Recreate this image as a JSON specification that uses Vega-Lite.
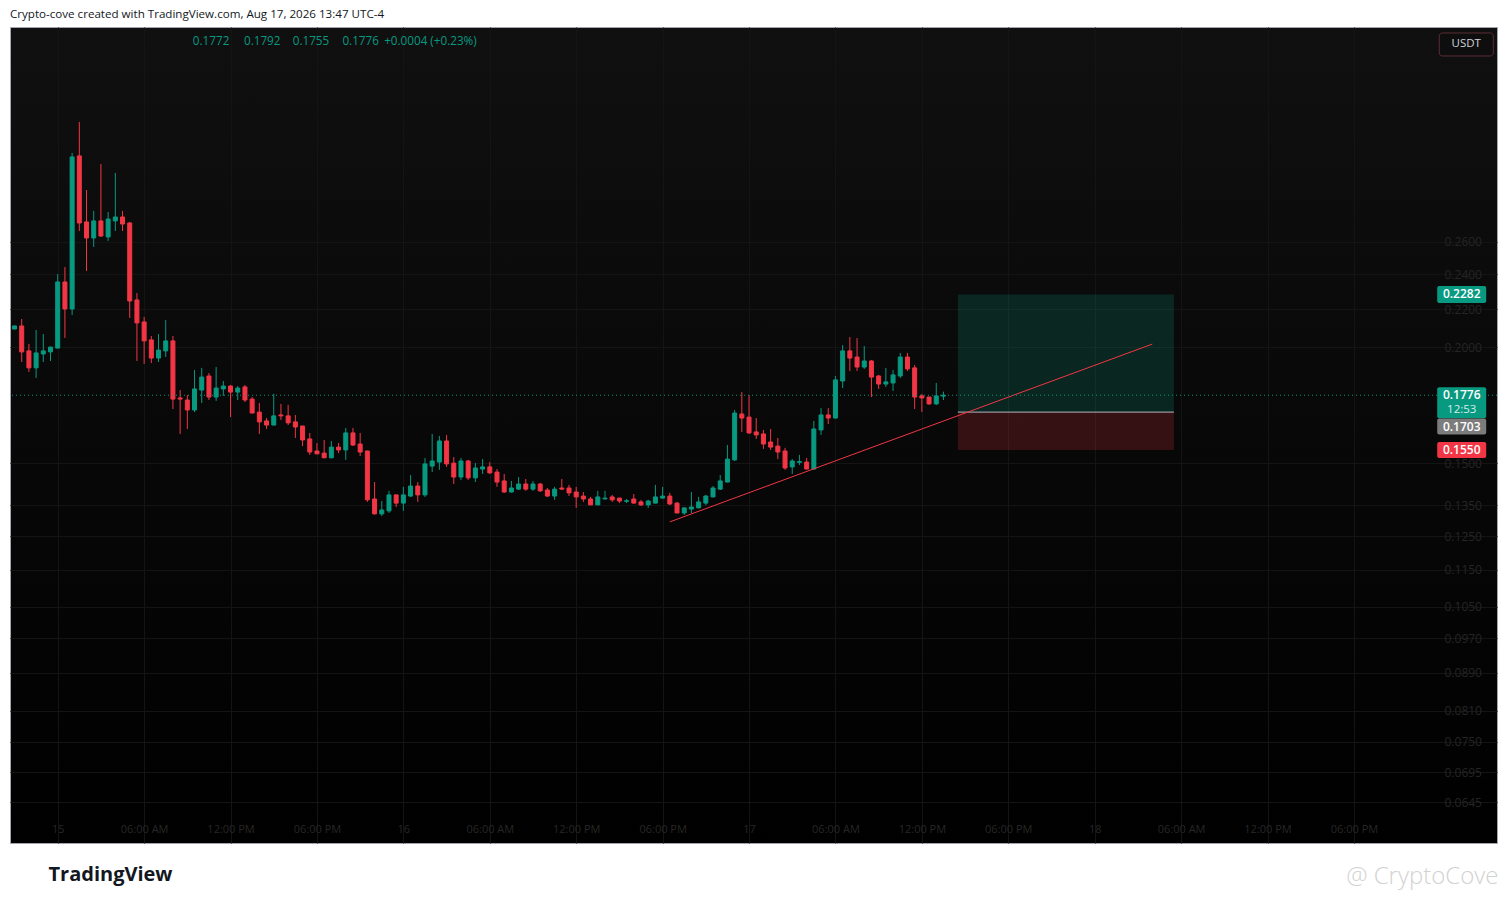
{
  "$schema": "https://vega.github.io/schema/vega-lite/v6.json",
  "width": 1487,
  "height": 816,
  "autosize": {"type": "none"},
  "padding": {"left": 10, "top": 27, "right": 11, "bottom": 61},
  "background": "#ffffff",
  "config": {
    "font": "Open Sans",
    "view": {
      "fill": {"gradient": "linear", "x1": 0, "y1": 0, "x2": 0, "y2": 1, "stops": [{"offset": 0, "color": "#101010"}, {"offset": 1, "color": "#000000"}]},
      "stroke": "#a3a6af",
      "strokeWidth": 1
    }
  },
  "title": {"text": "Crypto-cove created with TradingView.com, Aug 17, 2026 13:47 UTC-4", "anchor": "start", "frame": "group", "orient": "top", "offset": 6, "fontSize": 11.6, "fontWeight": "normal", "color": "#131722", "font": "Open Sans"},
  "datasets": {
    "candles": [
      {"t":"2026-08-14T21:00:00Z","o":0.2094,"h":0.2112,"l":0.2092,"c":0.2110},
      {"t":"2026-08-14T21:30:00Z","o":0.2110,"h":0.2147,"l":0.1929,"c":0.1978},
      {"t":"2026-08-14T22:00:00Z","o":0.1983,"h":0.2018,"l":0.1882,"c":0.1901},
      {"t":"2026-08-14T22:30:00Z","o":0.1901,"h":0.2089,"l":0.1854,"c":0.1973},
      {"t":"2026-08-14T23:00:00Z","o":0.1968,"h":0.2068,"l":0.1929,"c":0.1983},
      {"t":"2026-08-14T23:30:00Z","o":0.1978,"h":0.2004,"l":0.1934,"c":0.2002},
      {"t":"2026-08-15T00:00:00Z","o":0.1997,"h":0.2401,"l":0.1995,"c":0.2354},
      {"t":"2026-08-15T00:30:00Z","o":0.2354,"h":0.2443,"l":0.2048,"c":0.2201},
      {"t":"2026-08-15T01:00:00Z","o":0.2201,"h":0.3245,"l":0.2168,"c":0.3213},
      {"t":"2026-08-15T01:30:00Z","o":0.3221,"h":0.3505,"l":0.2672,"c":0.2726},
      {"t":"2026-08-15T02:00:00Z","o":0.2733,"h":0.2959,"l":0.2419,"c":0.2626},
      {"t":"2026-08-15T02:30:00Z","o":0.2626,"h":0.2809,"l":0.2568,"c":0.2740},
      {"t":"2026-08-15T03:00:00Z","o":0.2740,"h":0.3157,"l":0.2633,"c":0.2639},
      {"t":"2026-08-15T03:30:00Z","o":0.2633,"h":0.2802,"l":0.2607,"c":0.2753},
      {"t":"2026-08-15T04:00:00Z","o":0.2740,"h":0.3087,"l":0.2672,"c":0.2767},
      {"t":"2026-08-15T04:30:00Z","o":0.2767,"h":0.2809,"l":0.2672,"c":0.2719},
      {"t":"2026-08-15T05:00:00Z","o":0.2726,"h":0.2733,"l":0.2152,"c":0.2245},
      {"t":"2026-08-15T05:30:00Z","o":0.2251,"h":0.2290,"l":0.1934,"c":0.2126},
      {"t":"2026-08-15T06:00:00Z","o":0.2131,"h":0.2158,"l":0.1920,"c":0.2033},
      {"t":"2026-08-15T06:30:00Z","o":0.2038,"h":0.2058,"l":0.1924,"c":0.1948},
      {"t":"2026-08-15T07:00:00Z","o":0.1948,"h":0.2068,"l":0.1929,"c":0.1987},
      {"t":"2026-08-15T07:30:00Z","o":0.1983,"h":0.2141,"l":0.1953,"c":0.2033},
      {"t":"2026-08-15T08:00:00Z","o":0.2033,"h":0.2058,"l":0.1716,"c":0.1759},
      {"t":"2026-08-15T08:30:00Z","o":0.1764,"h":0.1799,"l":0.1613,"c":0.1759},
      {"t":"2026-08-15T09:00:00Z","o":0.1755,"h":0.1777,"l":0.1633,"c":0.1712},
      {"t":"2026-08-15T09:30:00Z","o":0.1712,"h":0.1891,"l":0.1703,"c":0.1804},
      {"t":"2026-08-15T10:00:00Z","o":0.1799,"h":0.1901,"l":0.1742,"c":0.1858},
      {"t":"2026-08-15T10:30:00Z","o":0.1863,"h":0.1877,"l":0.1755,"c":0.1768},
      {"t":"2026-08-15T11:00:00Z","o":0.1768,"h":0.1905,"l":0.1751,"c":0.1808},
      {"t":"2026-08-15T11:30:00Z","o":0.1804,"h":0.1840,"l":0.1773,"c":0.1817},
      {"t":"2026-08-15T12:00:00Z","o":0.1817,"h":0.1822,"l":0.1682,"c":0.1790},
      {"t":"2026-08-15T12:30:00Z","o":0.1790,"h":0.1817,"l":0.1755,"c":0.1808},
      {"t":"2026-08-15T13:00:00Z","o":0.1813,"h":0.1822,"l":0.1746,"c":0.1755},
      {"t":"2026-08-15T13:30:00Z","o":0.1759,"h":0.1768,"l":0.1698,"c":0.1699},
      {"t":"2026-08-15T14:00:00Z","o":0.1703,"h":0.1742,"l":0.1613,"c":0.1662},
      {"t":"2026-08-15T14:30:00Z","o":0.1666,"h":0.1678,"l":0.1633,"c":0.1649},
      {"t":"2026-08-15T15:00:00Z","o":0.1649,"h":0.1782,"l":0.1648,"c":0.1687},
      {"t":"2026-08-15T15:30:00Z","o":0.1691,"h":0.1738,"l":0.1670,"c":0.1687},
      {"t":"2026-08-15T16:00:00Z","o":0.1687,"h":0.1734,"l":0.1649,"c":0.1658},
      {"t":"2026-08-15T16:30:00Z","o":0.1662,"h":0.1691,"l":0.1597,"c":0.1641},
      {"t":"2026-08-15T17:00:00Z","o":0.1645,"h":0.1646,"l":0.1565,"c":0.1589},
      {"t":"2026-08-15T17:30:00Z","o":0.1593,"h":0.1617,"l":0.1531,"c":0.1542},
      {"t":"2026-08-15T18:00:00Z","o":0.1546,"h":0.1577,"l":0.1534,"c":0.1535},
      {"t":"2026-08-15T18:30:00Z","o":0.1538,"h":0.1589,"l":0.1519,"c":0.1520},
      {"t":"2026-08-15T19:00:00Z","o":0.1520,"h":0.1585,"l":0.1518,"c":0.1561},
      {"t":"2026-08-15T19:30:00Z","o":0.1561,"h":0.1577,"l":0.1538,"c":0.1550},
      {"t":"2026-08-15T20:00:00Z","o":0.1550,"h":0.1637,"l":0.1512,"c":0.1617},
      {"t":"2026-08-15T20:30:00Z","o":0.1617,"h":0.1637,"l":0.1565,"c":0.1569},
      {"t":"2026-08-15T21:00:00Z","o":0.1573,"h":0.1617,"l":0.1527,"c":0.1542},
      {"t":"2026-08-15T21:30:00Z","o":0.1546,"h":0.1547,"l":0.1362,"c":0.1369},
      {"t":"2026-08-15T22:00:00Z","o":0.1372,"h":0.1431,"l":0.1320,"c":0.1322},
      {"t":"2026-08-15T22:30:00Z","o":0.1322,"h":0.1365,"l":0.1315,"c":0.1335},
      {"t":"2026-08-15T23:00:00Z","o":0.1332,"h":0.1400,"l":0.1325,"c":0.1386},
      {"t":"2026-08-15T23:30:00Z","o":0.1386,"h":0.1387,"l":0.1345,"c":0.1358},
      {"t":"2026-08-16T00:00:00Z","o":0.1358,"h":0.1414,"l":0.1332,"c":0.1386},
      {"t":"2026-08-16T00:30:00Z","o":0.1382,"h":0.1456,"l":0.1379,"c":0.1417},
      {"t":"2026-08-16T01:00:00Z","o":0.1417,"h":0.1431,"l":0.1362,"c":0.1386},
      {"t":"2026-08-16T01:30:00Z","o":0.1386,"h":0.1519,"l":0.1379,"c":0.1497},
      {"t":"2026-08-16T02:00:00Z","o":0.1489,"h":0.1613,"l":0.1467,"c":0.1508},
      {"t":"2026-08-16T02:30:00Z","o":0.1504,"h":0.1605,"l":0.1475,"c":0.1585},
      {"t":"2026-08-16T03:00:00Z","o":0.1585,"h":0.1609,"l":0.1486,"c":0.1497},
      {"t":"2026-08-16T03:30:00Z","o":0.1500,"h":0.1523,"l":0.1424,"c":0.1449},
      {"t":"2026-08-16T04:00:00Z","o":0.1449,"h":0.1519,"l":0.1438,"c":0.1508},
      {"t":"2026-08-16T04:30:00Z","o":0.1508,"h":0.1512,"l":0.1438,"c":0.1446},
      {"t":"2026-08-16T05:00:00Z","o":0.1446,"h":0.1500,"l":0.1431,"c":0.1482},
      {"t":"2026-08-16T05:30:00Z","o":0.1478,"h":0.1515,"l":0.1460,"c":0.1486},
      {"t":"2026-08-16T06:00:00Z","o":0.1486,"h":0.1504,"l":0.1460,"c":0.1464},
      {"t":"2026-08-16T06:30:00Z","o":0.1467,"h":0.1478,"l":0.1414,"c":0.1431},
      {"t":"2026-08-16T07:00:00Z","o":0.1435,"h":0.1460,"l":0.1393,"c":0.1396},
      {"t":"2026-08-16T07:30:00Z","o":0.1396,"h":0.1435,"l":0.1394,"c":0.1410},
      {"t":"2026-08-16T08:00:00Z","o":0.1406,"h":0.1449,"l":0.1403,"c":0.1424},
      {"t":"2026-08-16T08:30:00Z","o":0.1424,"h":0.1442,"l":0.1400,"c":0.1406},
      {"t":"2026-08-16T09:00:00Z","o":0.1406,"h":0.1435,"l":0.1400,"c":0.1424},
      {"t":"2026-08-16T09:30:00Z","o":0.1424,"h":0.1428,"l":0.1396,"c":0.1400},
      {"t":"2026-08-16T10:00:00Z","o":0.1403,"h":0.1410,"l":0.1379,"c":0.1382},
      {"t":"2026-08-16T10:30:00Z","o":0.1382,"h":0.1414,"l":0.1369,"c":0.1406},
      {"t":"2026-08-16T11:00:00Z","o":0.1410,"h":0.1442,"l":0.1403,"c":0.1406},
      {"t":"2026-08-16T11:30:00Z","o":0.1410,"h":0.1421,"l":0.1382,"c":0.1393},
      {"t":"2026-08-16T12:00:00Z","o":0.1396,"h":0.1414,"l":0.1342,"c":0.1379},
      {"t":"2026-08-16T12:30:00Z","o":0.1382,"h":0.1396,"l":0.1362,"c":0.1372},
      {"t":"2026-08-16T13:00:00Z","o":0.1372,"h":0.1379,"l":0.1351,"c":0.1352},
      {"t":"2026-08-16T13:30:00Z","o":0.1352,"h":0.1400,"l":0.1351,"c":0.1379},
      {"t":"2026-08-16T14:00:00Z","o":0.1372,"h":0.1400,"l":0.1371,"c":0.1375},
      {"t":"2026-08-16T14:30:00Z","o":0.1379,"h":0.1386,"l":0.1362,"c":0.1369},
      {"t":"2026-08-16T15:00:00Z","o":0.1375,"h":0.1376,"l":0.1358,"c":0.1365},
      {"t":"2026-08-16T15:30:00Z","o":0.1364,"h":0.1372,"l":0.1358,"c":0.1366},
      {"t":"2026-08-16T16:00:00Z","o":0.1372,"h":0.1389,"l":0.1357,"c":0.1358},
      {"t":"2026-08-16T16:30:00Z","o":0.1362,"h":0.1369,"l":0.1348,"c":0.1352},
      {"t":"2026-08-16T17:00:00Z","o":0.1352,"h":0.1369,"l":0.1342,"c":0.1365},
      {"t":"2026-08-16T17:30:00Z","o":0.1358,"h":0.1421,"l":0.1357,"c":0.1379},
      {"t":"2026-08-16T18:00:00Z","o":0.1375,"h":0.1414,"l":0.1374,"c":0.1382},
      {"t":"2026-08-16T18:30:00Z","o":0.1382,"h":0.1393,"l":0.1351,"c":0.1355},
      {"t":"2026-08-16T19:00:00Z","o":0.1358,"h":0.1362,"l":0.1325,"c":0.1325},
      {"t":"2026-08-16T19:30:00Z","o":0.1325,"h":0.1342,"l":0.1318,"c":0.1342},
      {"t":"2026-08-16T20:00:00Z","o":0.1338,"h":0.1396,"l":0.1325,"c":0.1345},
      {"t":"2026-08-16T20:30:00Z","o":0.1342,"h":0.1379,"l":0.1341,"c":0.1362},
      {"t":"2026-08-16T21:00:00Z","o":0.1358,"h":0.1386,"l":0.1351,"c":0.1382},
      {"t":"2026-08-16T21:30:00Z","o":0.1379,"h":0.1417,"l":0.1378,"c":0.1410},
      {"t":"2026-08-16T22:00:00Z","o":0.1406,"h":0.1456,"l":0.1403,"c":0.1435},
      {"t":"2026-08-16T22:30:00Z","o":0.1431,"h":0.1569,"l":0.1430,"c":0.1515},
      {"t":"2026-08-16T23:00:00Z","o":0.1512,"h":0.1712,"l":0.1508,"c":0.1699},
      {"t":"2026-08-16T23:30:00Z","o":0.1695,"h":0.1790,"l":0.1621,"c":0.1678},
      {"t":"2026-08-17T00:00:00Z","o":0.1682,"h":0.1777,"l":0.1613,"c":0.1617},
      {"t":"2026-08-17T00:30:00Z","o":0.1621,"h":0.1678,"l":0.1593,"c":0.1609},
      {"t":"2026-08-17T01:00:00Z","o":0.1613,"h":0.1629,"l":0.1554,"c":0.1573},
      {"t":"2026-08-17T01:30:00Z","o":0.1581,"h":0.1633,"l":0.1550,"c":0.1561},
      {"t":"2026-08-17T02:00:00Z","o":0.1565,"h":0.1597,"l":0.1515,"c":0.1542},
      {"t":"2026-08-17T02:30:00Z","o":0.1546,"h":0.1558,"l":0.1475,"c":0.1482},
      {"t":"2026-08-17T03:00:00Z","o":0.1486,"h":0.1515,"l":0.1460,"c":0.1508},
      {"t":"2026-08-17T03:30:00Z","o":0.1503,"h":0.1531,"l":0.1493,"c":0.1506},
      {"t":"2026-08-17T04:00:00Z","o":0.1504,"h":0.1519,"l":0.1478,"c":0.1478},
      {"t":"2026-08-17T04:30:00Z","o":0.1478,"h":0.1666,"l":0.1477,"c":0.1633},
      {"t":"2026-08-17T05:00:00Z","o":0.1629,"h":0.1720,"l":0.1609,"c":0.1691},
      {"t":"2026-08-17T05:30:00Z","o":0.1691,"h":0.1720,"l":0.1653,"c":0.1678},
      {"t":"2026-08-17T06:00:00Z","o":0.1678,"h":0.1863,"l":0.1677,"c":0.1845},
      {"t":"2026-08-17T06:30:00Z","o":0.1840,"h":0.2012,"l":0.1808,"c":0.1983},
      {"t":"2026-08-17T07:00:00Z","o":0.1983,"h":0.2053,"l":0.1886,"c":0.1948},
      {"t":"2026-08-17T07:30:00Z","o":0.1953,"h":0.2048,"l":0.1886,"c":0.1905},
      {"t":"2026-08-17T08:00:00Z","o":0.1905,"h":0.2007,"l":0.1896,"c":0.1934},
      {"t":"2026-08-17T08:30:00Z","o":0.1934,"h":0.1939,"l":0.1768,"c":0.1858},
      {"t":"2026-08-17T09:00:00Z","o":0.1863,"h":0.1868,"l":0.1804,"c":0.1826},
      {"t":"2026-08-17T09:30:00Z","o":0.1826,"h":0.1901,"l":0.1813,"c":0.1836},
      {"t":"2026-08-17T10:00:00Z","o":0.1831,"h":0.1891,"l":0.1795,"c":0.1868},
      {"t":"2026-08-17T10:30:00Z","o":0.1863,"h":0.1973,"l":0.1854,"c":0.1953},
      {"t":"2026-08-17T11:00:00Z","o":0.1953,"h":0.1973,"l":0.1886,"c":0.1896},
      {"t":"2026-08-17T11:30:00Z","o":0.1901,"h":0.1915,"l":0.1716,"c":0.1768},
      {"t":"2026-08-17T12:00:00Z","o":0.1773,"h":0.1782,"l":0.1703,"c":0.1764},
      {"t":"2026-08-17T12:30:00Z","o":0.1768,"h":0.1769,"l":0.1734,"c":0.1738},
      {"t":"2026-08-17T13:00:00Z","o":0.1738,"h":0.1831,"l":0.1733,"c":0.1773},
      {"t":"2026-08-17T13:30:00Z","o":0.1772,"h":0.1792,"l":0.1755,"c":0.1776}
    ],
    "target": [{"t":"2026-08-17T14:30:00Z","t2":"2026-08-18T05:30:00Z","p":0.1703,"p2":0.2282}],
    "stop": [{"t":"2026-08-17T14:30:00Z","t2":"2026-08-18T05:30:00Z","p":0.1550,"p2":0.1703}],
    "trend": [{"t":"2026-08-16T18:30:00Z","p":0.1296},{"t":"2026-08-18T04:00:00Z","p":0.2017}],
    "last": [{"p":0.1776}],
    "tagT": [{"t":"2026-08-19T01:29:00Z","p":0.2282,"label":"0.2282"}],
    "tagLast": [{"t":"2026-08-19T01:29:00Z","p":0.1776,"label":"0.1776","sub":"12:53"}],
    "tagEntry": [{"t":"2026-08-19T01:29:00Z","p":0.1703,"label":"0.1703"}],
    "tagStop": [{"t":"2026-08-19T01:29:00Z","p":0.1550,"label":"0.1550"}],
    "ohlc": [
      {"t":"2026-08-15T09:23:00Z","p":0.42867,"label":"0.1772"},
      {"t":"2026-08-15T12:56:00Z","p":0.42867,"label":"0.1792"},
      {"t":"2026-08-15T16:19:00Z","p":0.42867,"label":"0.1755"},
      {"t":"2026-08-15T19:46:00Z","p":0.42867,"label":"0.1776"},
      {"t":"2026-08-15T22:40:00Z","p":0.42867,"label":"+0.0004 (+0.23%)"}
    ],
    "unit": [{"t":"2026-08-19T01:48:00Z","p":0.42497,"label":"USDT"}]
  },
  "layer": [
    {
      "data": {"name": "candles"},
      "mark": {"type": "rule", "strokeWidth": 1},
      "encoding": {
        "x": {"field": "t", "type": "temporal",
          "scale": {"type": "utc", "domain": [{"year":2026,"month":8,"date":14,"hours":21,"minutes":2,"seconds":4,"utc":true},{"year":2026,"month":8,"date":19,"hours":3,"minutes":35,"seconds":10,"utc":true}]},
          "axis": {
            "orient": "bottom", "offset": -24, "domain": false, "ticks": false, "labelPadding": 4, "zindex": 0,
            "labelColor": "#272727", "labelFontSize": 11, "labelFont": "Open Sans", "labelFlush": false, "labelOverlap": false,
            "values": [
              {"year":2026,"month":8,"date":15,"hours":0,"utc":true},{"year":2026,"month":8,"date":15,"hours":6,"utc":true},{"year":2026,"month":8,"date":15,"hours":12,"utc":true},{"year":2026,"month":8,"date":15,"hours":18,"utc":true},
              {"year":2026,"month":8,"date":16,"hours":0,"utc":true},{"year":2026,"month":8,"date":16,"hours":6,"utc":true},{"year":2026,"month":8,"date":16,"hours":12,"utc":true},{"year":2026,"month":8,"date":16,"hours":18,"utc":true},
              {"year":2026,"month":8,"date":17,"hours":0,"utc":true},{"year":2026,"month":8,"date":17,"hours":6,"utc":true},{"year":2026,"month":8,"date":17,"hours":12,"utc":true},{"year":2026,"month":8,"date":17,"hours":18,"utc":true},
              {"year":2026,"month":8,"date":18,"hours":0,"utc":true},{"year":2026,"month":8,"date":18,"hours":6,"utc":true},{"year":2026,"month":8,"date":18,"hours":12,"utc":true},{"year":2026,"month":8,"date":18,"hours":18,"utc":true}
            ],
            "labelExpr": "utchours(datum.value) == 0 ? utcFormat(datum.value, '%-d') : utcFormat(datum.value, '%I:%M %p')",
            "grid": true, "gridColor": "#141414", "gridWidth": 1,
            "title": "TradingView", "titleX": 38, "titleY": 55, "titleAlign": "left", "titleBaseline": "middle", "titleAngle": 0,
            "titleFontSize": 20, "titleFontWeight": "bold", "titleColor": "#131722", "titleFont": "Open Sans"
          }
        },
        "y": {"field": "l", "type": "quantitative",
          "scale": {"type": "log", "domain": [0.058305, 0.44385], "nice": false},
          "axis": {
            "orient": "right", "offset": -60, "domain": false, "ticks": false, "labelPadding": 7, "labelAlign": "left", "zindex": 0,
            "values": [0.26, 0.24, 0.22, 0.2, 0.15, 0.135, 0.125, 0.115, 0.105, 0.097, 0.089, 0.081, 0.075, 0.0695, 0.0645],
            "format": ".4f", "labelColor": "#252525", "labelFontSize": 12, "labelFont": "Open Sans", "labelOverlap": false,
            "grid": true, "gridColor": "#141414", "gridWidth": 1,
            "title": "@ CryptoCove", "titleAngle": 0, "titleX": 61, "titleY": 849, "titleAlign": "right", "titleBaseline": "middle",
            "titleFontSize": 24, "titleFontWeight": 300, "titleColor": "#d2d2d2", "titleFont": "Open Sans"
          }
        },
        "y2": {"field": "h"},
        "color": {"condition": {"test": "datum.c >= datum.o", "value": "#089981"}, "value": "#f23645"}
      }
    },
    {
      "data": {"name": "candles"},
      "mark": {"type": "bar", "width": 4, "strokeWidth": 1},
      "encoding": {
        "x": {"field": "t", "type": "temporal"},
        "y": {"field": "o", "type": "quantitative"},
        "y2": {"field": "c"},
        "color": {"condition": {"test": "datum.c >= datum.o", "value": "#089981"}, "value": "#f23645"},
        "stroke": {"condition": {"test": "datum.c >= datum.o", "value": "#089981"}, "value": "#f23645"}
      }
    },
    {
      "data": {"name": "target"},
      "mark": {"type": "rect", "color": "#089981", "opacity": 0.2},
      "encoding": {
        "x": {"field": "t", "type": "temporal"},
        "x2": {"field": "t2"},
        "y": {"field": "p", "type": "quantitative"},
        "y2": {"field": "p2"}
      }
    },
    {
      "data": {"name": "stop"},
      "mark": {"type": "rect", "color": "#f23645", "opacity": 0.2},
      "encoding": {
        "x": {"field": "t", "type": "temporal"},
        "x2": {"field": "t2"},
        "y": {"field": "p", "type": "quantitative"},
        "y2": {"field": "p2"}
      }
    },
    {
      "data": {"name": "target"},
      "mark": {"type": "rule", "color": "#b2b5be", "strokeWidth": 1},
      "encoding": {
        "x": {"field": "t", "type": "temporal"},
        "x2": {"field": "t2"},
        "y": {"field": "p", "type": "quantitative"}
      }
    },
    {
      "data": {"name": "trend"},
      "mark": {"type": "line", "color": "#f23645", "strokeWidth": 1},
      "encoding": {
        "x": {"field": "t", "type": "temporal"},
        "y": {"field": "p", "type": "quantitative"}
      }
    },
    {
      "data": {"name": "last"},
      "mark": {"type": "rule", "color": "#089981", "strokeWidth": 1, "strokeDash": [1, 3]},
      "encoding": {
        "y": {"field": "p", "type": "quantitative"}
      }
    },
    {
      "data": {"name": "tagT"},
      "mark": {"type": "tick", "orient": "horizontal", "size": 49, "thickness": 17, "color": "#089981", "opacity": 1, "cornerRadius": 2},
      "encoding": {
        "x": {"field": "t", "type": "temporal"},
        "y": {"field": "p", "type": "quantitative"}
      }
    },
    {
      "data": {"name": "tagLast"},
      "mark": {"type": "tick", "orient": "horizontal", "size": 49, "thickness": 31, "yOffset": 7.5, "color": "#089981", "opacity": 1, "cornerRadius": 2},
      "encoding": {
        "x": {"field": "t", "type": "temporal"},
        "y": {"field": "p", "type": "quantitative"}
      }
    },
    {
      "data": {"name": "tagEntry"},
      "mark": {"type": "tick", "orient": "horizontal", "size": 49, "thickness": 16, "yOffset": 14.5, "color": "#7c7c7c", "opacity": 1, "cornerRadius": 2},
      "encoding": {
        "x": {"field": "t", "type": "temporal"},
        "y": {"field": "p", "type": "quantitative"}
      }
    },
    {
      "data": {"name": "tagStop"},
      "mark": {"type": "tick", "orient": "horizontal", "size": 49, "thickness": 16, "color": "#f23645", "opacity": 1, "cornerRadius": 2},
      "encoding": {
        "x": {"field": "t", "type": "temporal"},
        "y": {"field": "p", "type": "quantitative"}
      }
    },
    {
      "data": {"name": "tagT"},
      "mark": {"type": "text", "color": "#ffffff", "fontSize": 12, "fontWeight": 600, "font": "Open Sans", "align": "center", "baseline": "middle"},
      "encoding": {
        "x": {"field": "t", "type": "temporal"},
        "y": {"field": "p", "type": "quantitative"},
        "text": {"field": "label"}
      }
    },
    {
      "data": {"name": "tagLast"},
      "mark": {"type": "text", "color": "#ffffff", "fontSize": 12, "fontWeight": 600, "font": "Open Sans", "align": "center", "baseline": "middle"},
      "encoding": {
        "x": {"field": "t", "type": "temporal"},
        "y": {"field": "p", "type": "quantitative"},
        "text": {"field": "label"}
      }
    },
    {
      "data": {"name": "tagLast"},
      "mark": {"type": "text", "color": "#d8efe9", "fontSize": 11.5, "font": "Open Sans", "align": "center", "baseline": "middle", "dy": 14.5},
      "encoding": {
        "x": {"field": "t", "type": "temporal"},
        "y": {"field": "p", "type": "quantitative"},
        "text": {"field": "sub"}
      }
    },
    {
      "data": {"name": "tagEntry"},
      "mark": {"type": "text", "color": "#ffffff", "fontSize": 12, "fontWeight": 600, "font": "Open Sans", "align": "center", "baseline": "middle", "dy": 14.5},
      "encoding": {
        "x": {"field": "t", "type": "temporal"},
        "y": {"field": "p", "type": "quantitative"},
        "text": {"field": "label"}
      }
    },
    {
      "data": {"name": "tagStop"},
      "mark": {"type": "text", "color": "#ffffff", "fontSize": 12, "fontWeight": 600, "font": "Open Sans", "align": "center", "baseline": "middle"},
      "encoding": {
        "x": {"field": "t", "type": "temporal"},
        "y": {"field": "p", "type": "quantitative"},
        "text": {"field": "label"}
      }
    },
    {
      "data": {"name": "ohlc"},
      "mark": {"type": "text", "color": "#089981", "fontSize": 11.7, "font": "Open Sans", "align": "left", "baseline": "middle"},
      "encoding": {
        "x": {"field": "t", "type": "temporal"},
        "y": {"field": "p", "type": "quantitative"},
        "text": {"field": "label"}
      }
    },
    {
      "data": {"name": "unit"},
      "mark": {"type": "tick", "orient": "horizontal", "size": 54, "thickness": 23, "color": "#0e0e0e", "opacity": 1, "stroke": "#5a2d33", "strokeWidth": 1, "cornerRadius": 3},
      "encoding": {
        "x": {"field": "t", "type": "temporal"},
        "y": {"field": "p", "type": "quantitative"}
      }
    },
    {
      "data": {"name": "unit"},
      "mark": {"type": "text", "color": "#d1d4dc", "fontSize": 11.5, "font": "Open Sans", "align": "center", "baseline": "middle"},
      "encoding": {
        "x": {"field": "t", "type": "temporal"},
        "y": {"field": "p", "type": "quantitative"},
        "text": {"field": "label"}
      }
    }
  ]
}
